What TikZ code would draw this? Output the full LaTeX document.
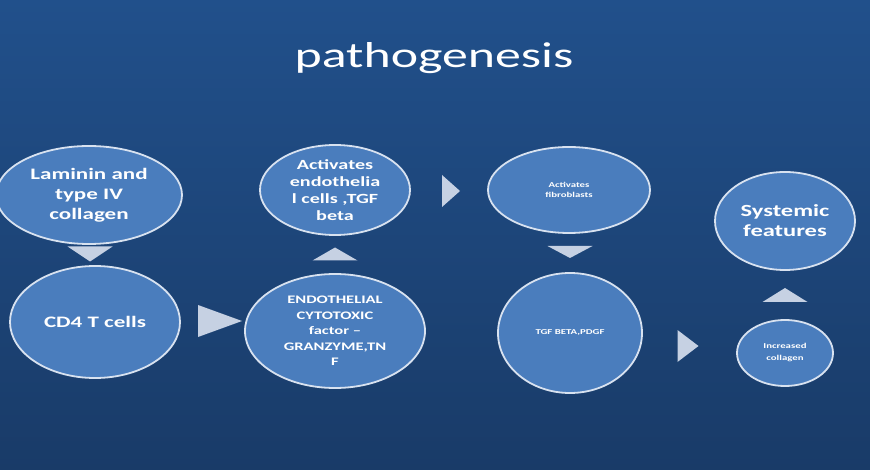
\documentclass[tikz,border=0pt]{standalone}
\usepackage{fontspec}
\newfontfamily\slidefont{Carlito}[FakeStretch=1.44]
\usetikzlibrary{shapes.geometric}
\definecolor{bgtop}{HTML}{21508B}
\definecolor{bgmid}{HTML}{1F4A82}
\definecolor{bgbot}{HTML}{193B68}
\definecolor{bubble}{HTML}{4A7DBD}
\definecolor{rim}{HTML}{D8E2F0}
\definecolor{tricol}{HTML}{C6D1E3}
\tikzset{
  bub/.style={ellipse, fill=bubble, draw=rim, line width=1.8pt, inner sep=0pt,
    text=white, align=center},
  tri/.style={fill=tricol},
}
\begin{document}
\begin{tikzpicture}[x=1pt,y=-1pt]
\useasboundingbox (0,0) rectangle (870,470);
\shade[top color=bgtop, middle color=bgmid, bottom color=bgbot] (0,0) rectangle (870,470);
% title
\node[text=white, font=\slidefont\fontsize{36}{40}\selectfont] (title) at (434,58) {pathogenesis};
% bubbles
\node[bub, minimum width=186pt, minimum height=98pt, font=\slidefont\bfseries\fontsize{16}{20}\selectfont] (lam) at (89,195) {Laminin and\\type IV\\collagen};
\node[bub, minimum width=170pt, minimum height=112pt, font=\slidefont\bfseries\fontsize{16}{20}\selectfont] (cd4) at (95,322) {CD4 T cells};
\node[bub, minimum width=150pt, minimum height=90pt, font=\slidefont\bfseries\fontsize{14}{17}\selectfont] (act) at (335,190) {Activates\\endothelia\\l cells ,TGF\\beta};
\node[bub, minimum width=180pt, minimum height=114pt, font=\slidefont\bfseries\fontsize{11.5}{15.5}\selectfont] (endo) at (335,331) {ENDOTHELIAL\\CYTOTOXIC\\factor \textendash\\GRANZYME,TN\\F};
\node[bub, minimum width=162pt, minimum height=86pt, font=\slidefont\bfseries\fontsize{7.5}{10.5}\selectfont] (fib) at (569,190) {Activates\\fibroblasts};
\node[bub, minimum width=144pt, minimum height=120pt, font=\slidefont\bfseries\fontsize{7.5}{10}\selectfont] (tgf) at (570,333) {TGF BETA,PDGF};
\node[bub, minimum width=140pt, minimum height=98pt, font=\slidefont\bfseries\fontsize{17}{20}\selectfont] (sys) at (785,221) {Systemic\\features};
\node[bub, minimum width=96pt, minimum height=66pt, font=\slidefont\bfseries\fontsize{7.5}{12}\selectfont] (inc) at (785,353) {Increased\\collagen};
% arrow triangles
\coordinate (a1) at (90,254);
\fill[tri] ([shift={(-22.5,-7.5)}]a1) -- ([shift={(22.5,-7.5)}]a1) -- ([shift={(0,7.5)}]a1) -- cycle;
\coordinate (a2) at (220,321);
\fill[tri] ([shift={(-22,-16)}]a2) -- ([shift={(-22,16)}]a2) -- ([shift={(22,0)}]a2) -- cycle;
\coordinate (a3) at (335,254);
\fill[tri] ([shift={(-22.5,6.5)}]a3) -- ([shift={(22.5,6.5)}]a3) -- ([shift={(0,-6.5)}]a3) -- cycle;
\coordinate (a4) at (451,191);
\fill[tri] ([shift={(-9,-16)}]a4) -- ([shift={(-9,16)}]a4) -- ([shift={(9,0)}]a4) -- cycle;
\coordinate (a5) at (570,252);
\fill[tri] ([shift={(-22.5,-6)}]a5) -- ([shift={(22.5,-6)}]a5) -- ([shift={(0,6)}]a5) -- cycle;
\coordinate (a6) at (688,346);
\fill[tri] ([shift={(-10.5,-16)}]a6) -- ([shift={(-10.5,16)}]a6) -- ([shift={(10.5,0)}]a6) -- cycle;
\coordinate (a7) at (785,295);
\fill[tri] ([shift={(-22.5,7)}]a7) -- ([shift={(22.5,7)}]a7) -- ([shift={(0,-7)}]a7) -- cycle;
\end{tikzpicture}
\end{document}
